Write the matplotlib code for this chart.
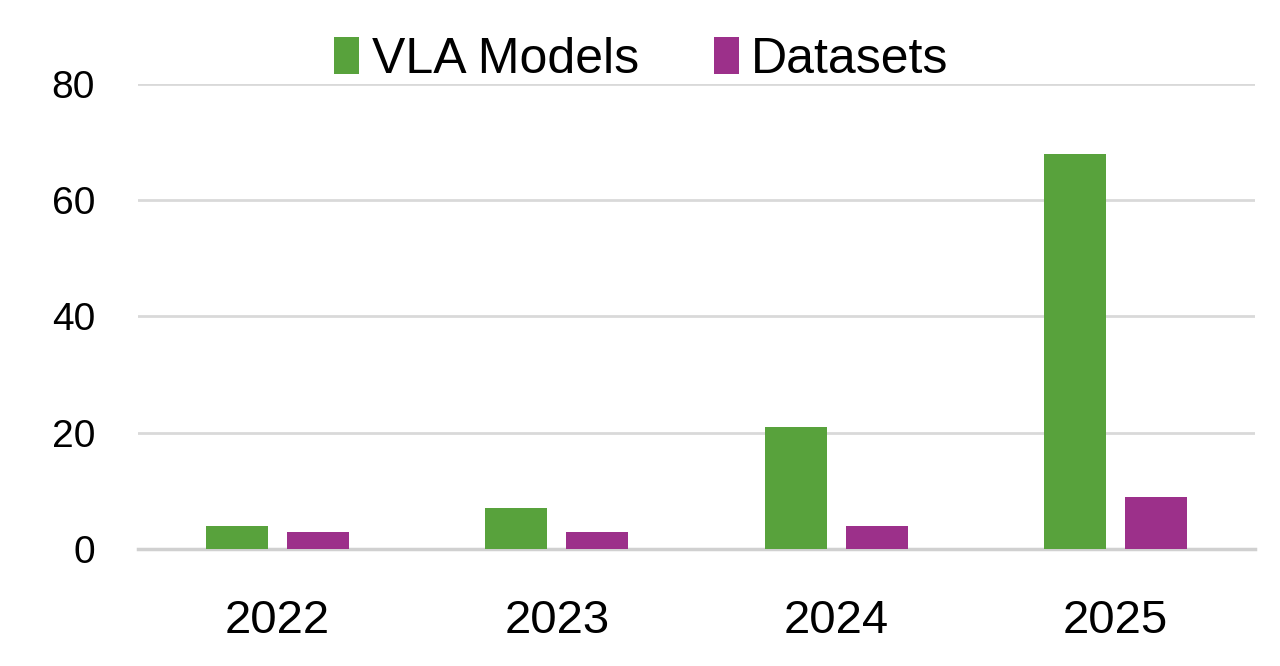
import numpy as np
import matplotlib.pyplot as plt

# chart data
years = ["2022", "2023", "2024", "2025"]
vla_models = [4, 7, 21, 68]
datasets = [3, 3, 4, 9]

green = "#58A23C"
purple = "#9C308A"

plt.rcParams['font.family'] = ['Liberation Sans', 'DejaVu Sans']

fig = plt.figure(figsize=(12.8, 6.66), dpi=100)
ax = fig.add_axes([0.1078, 0.1757, 0.8727, 0.6982])

x = np.arange(len(years))
w = 0.222
ax.bar(x - 0.145, vla_models, w, color=green, label="VLA Models", zorder=3)
ax.bar(x + 0.145, datasets, w, color=purple, label="Datasets", zorder=3)

ax.set_xlim(-0.5, len(years) - 0.5)
ax.set_ylim(0, 80)
ax.set_yticks([0, 20, 40, 60, 80])
ax.set_xticks(x)
ax.set_xticklabels(years)

ax.yaxis.grid(True, color="#d9d9d9", linewidth=2)
ax.set_axisbelow(True)
for s in ["top", "right", "left"]:
    ax.spines[s].set_visible(False)
ax.spines["bottom"].set_color("#d0d0d0")
ax.spines["bottom"].set_linewidth(2.5)

ax.tick_params(axis="y", length=0, pad=31, labelsize=28)
ax.tick_params(axis="x", length=0, pad=36, labelsize=34)

fig.legend(loc="center", bbox_to_anchor=(0.501, 0.91), ncol=2, frameon=False,
           fontsize=36, handlelength=0.5, handleheight=0.75,
           handletextpad=0.25, columnspacing=1.5)

fig.savefig("out.png", dpi=100)
